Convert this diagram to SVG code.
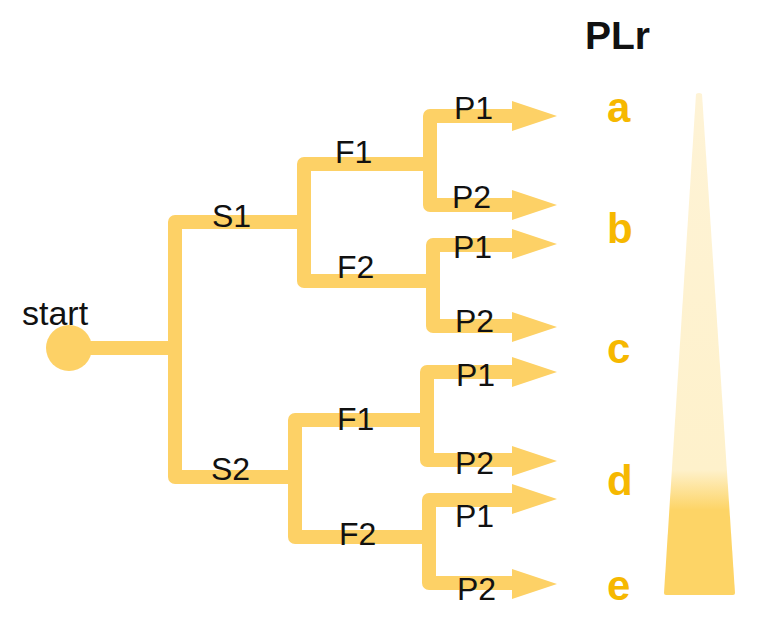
<svg xmlns="http://www.w3.org/2000/svg" xmlns:xlink="http://www.w3.org/1999/xlink" width="768" height="639" viewBox="0 0 768 639">
<style>
.ln{fill:none;stroke:#FDD166;stroke-width:14;stroke-linejoin:round}
.ah{fill:#FDD166}
.lb{font-family:"Liberation Sans",Arial,sans-serif;font-size:32px;fill:#111}
.lv{font-family:"Liberation Sans",Arial,sans-serif;font-size:42px;font-weight:bold;fill:#F6B800}
.tt{font-family:"Liberation Sans",Arial,sans-serif;font-size:39px;font-weight:bold;fill:#111}
</style>
<defs>
<path id="arrow" d="M0 -15 L45 0 L0 15 Z"/>
<linearGradient id="grad" gradientUnits="userSpaceOnUse" x1="0" y1="94" x2="0" y2="595">
<stop offset="0" stop-color="#FEF3D6"/>
<stop offset="0.75" stop-color="#FEF1CB"/>
<stop offset="0.83" stop-color="#FDD466"/>
<stop offset="1" stop-color="#FDD466"/>
</linearGradient>
</defs>
<g id="connectors">
<path class="ln" d="M69 348 H175"/>
<path class="ln" d="M304 222 H175 V477 H295"/>
<path class="ln" d="M430 164 H304 V281 H433"/>
<path class="ln" d="M427 420 H295 V537 H429"/>
<path class="ln" d="M512 116 H430 V205 H512"/>
<path class="ln" d="M512 245 H433 V326 H512"/>
<path class="ln" d="M512 372 H427 V460 H512"/>
<path class="ln" d="M512 500 H429 V583 H512"/>
<use href="#arrow" class="ah" x="512" y="116"/>
<use href="#arrow" class="ah" x="512" y="205"/>
<use href="#arrow" class="ah" x="512" y="244"/>
<use href="#arrow" class="ah" x="512" y="327"/>
<use href="#arrow" class="ah" x="512" y="372"/>
<use href="#arrow" class="ah" x="512" y="461"/>
<use href="#arrow" class="ah" x="512" y="499"/>
<use href="#arrow" class="ah" x="512" y="584"/>
</g>
<g id="start">
<circle cx="69" cy="348" r="23" fill="#FDD166"/>
<text class="lb" x="22" y="325" style="font-size:34px">start</text>
</g>
<g id="S1"><text class="lb" x="212" y="227">S1</text></g>
<g id="S2"><text class="lb" x="211" y="480">S2</text></g>
<g id="S1-F1"><text class="lb" x="335" y="163">F1</text></g>
<g id="S1-F2"><text class="lb" x="337" y="278">F2</text></g>
<g id="S2-F1"><text class="lb" x="337" y="430">F1</text></g>
<g id="S2-F2"><text class="lb" x="339" y="545">F2</text></g>
<g id="S1-F1-P1"><text class="lb" x="454" y="119">P1</text></g>
<g id="S1-F1-P2"><text class="lb" x="452" y="208">P2</text></g>
<g id="S1-F2-P1"><text class="lb" x="453" y="258">P1</text></g>
<g id="S1-F2-P2"><text class="lb" x="455" y="332">P2</text></g>
<g id="S2-F1-P1"><text class="lb" x="456" y="386">P1</text></g>
<g id="S2-F1-P2"><text class="lb" x="455" y="474">P2</text></g>
<g id="S2-F2-P1"><text class="lb" x="455" y="527">P1</text></g>
<g id="S2-F2-P2"><text class="lb" x="457" y="600">P2</text></g>
<g id="PLr">
<text class="tt" x="585" y="49">PLr</text>
<text class="lv" x="607" y="122">a</text>
<text class="lv" x="607" y="243">b</text>
<text class="lv" x="607" y="363">c</text>
<text class="lv" x="607" y="495">d</text>
<text class="lv" x="607" y="600">e</text>
<path d="M696 94 Q699 92 702 94 L735 593 Q735 595 733 595 L666 595 Q664 595 664 593 Z" fill="url(#grad)"/>
</g>
</svg>
